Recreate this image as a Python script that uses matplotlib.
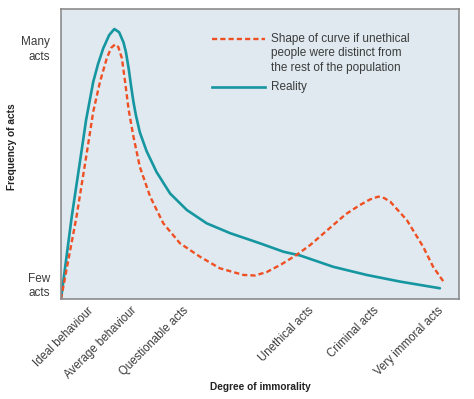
import matplotlib
matplotlib.use("Agg")
import matplotlib.pyplot as plt

plt.rcParams['font.family'] = ['Liberation Sans', 'DejaVu Sans']

# degree of immorality (0-100) and frequency of acts (0-100)
reality_x = [0, 2.7, 5.2, 6.3, 8.1, 9.3, 10.6, 12.1, 13.4, 14.6, 15.7, 16.3, 17.0, 17.6,
             18.2, 18.8, 19.8, 21.5, 24.0, 27.4, 31.6, 36.6, 42.5, 50.0, 55.9, 60.1,
             68.4, 76.8, 85.2, 95.2]
reality_y = [0, 28.4, 51.4, 61.7, 74.9, 81.0, 86.4, 91.0, 93.1, 92.0, 88.5, 85.2, 79.5, 73.5,
             68.0, 63.5, 57.5, 51.0, 43.8, 36.4, 30.7, 26.1, 22.7, 19.2, 16.3, 15.0,
             11.1, 8.3, 6.0, 3.7]

distinct_x = [0, 3.9, 6.6, 8.1, 9.8, 11.5, 12.6, 13.6, 14.4, 15.3, 16.1, 17.0, 18.2, 19.8,
              22.4, 25.7, 29.9, 34.9, 39.9, 45.8, 48.7, 51.7, 55.3, 59.2, 62.6, 68.4,
              71.6, 75.1, 77.6, 79.7, 81.2, 82.7, 86.9, 91.0, 93.5, 96.1]
distinct_y = [0, 28.4, 51.4, 64.6, 74.9, 83.0, 86.6, 87.8, 86.9, 83.0, 74.9, 65.2, 56.0, 45.6,
              35.3, 26.1, 19.2, 14.6, 10.6, 8.3, 8.1, 9.3, 11.9, 15.2, 18.6, 25.5,
              29.3, 32.4, 34.3, 35.3, 34.8, 33.6, 27.2, 18.0, 11.1, 6.0]

x_tick_pos = [8.8, 19.6, 32.7, 64.1, 80.4, 96.7]
x_tick_labels = ["Ideal behaviour", "Average behaviour", "Questionable acts",
                 "Unethical acts", "Criminal acts", "Very immoral acts"]
y_tick_pos = [5.5, 86.9]
y_tick_labels = ["Few\nacts", "Many\nacts"]

teal = "#1596a0"
orange = "#ef5023"
txt = "#3c3c3c"

fig = plt.figure(figsize=(4.74, 3.99), dpi=100)
ax = fig.add_axes([61 / 474, 1 - 299 / 399, 398 / 474, 290 / 399])
ax.set_facecolor("#dfe9ef")

ax.plot(reality_x, reality_y, color=teal, lw=1.9, solid_joinstyle="round", solid_capstyle="round")
ax.plot(distinct_x, distinct_y, color=orange, lw=1.7, dashes=(2.2, 1.3))

ax.set_xlim(0, 100)
ax.set_ylim(0, 100)

ax.set_xticks(x_tick_pos)
ax.set_xticklabels(x_tick_labels, rotation=45, ha="right", va="top", fontsize=8.3, color=txt)
ax.set_yticks(y_tick_pos)
ax.set_yticklabels(y_tick_labels, ha="right", fontsize=8.5, color=txt, linespacing=1.3)
ax.tick_params(axis="both", length=0)
ax.tick_params(axis="x", pad=4)
ax.tick_params(axis="y", pad=8)

for s in ax.spines.values():
    s.set_color("#8c8c8c")
    s.set_linewidth(1.2)

fig.text(260 / 474, 1 - 387 / 399, "Degree of immorality", fontsize=7.3, fontweight="bold",
         ha="center", va="center", color="#222222")
fig.text(12 / 474, 1 - 147 / 399, "Frequency of acts", fontsize=7.3, fontweight="bold",
         ha="center", va="center", rotation=90, color="#222222")

# legend drawn by hand so the dashed handle sits on the first text line
ax.plot([0.379, 0.513], [0.897, 0.897], transform=ax.transAxes, color=orange, lw=1.7,
        dashes=(2.2, 1.3))
ax.text(0.528, 0.917, "Shape of curve if unethical\npeople were distinct from\nthe rest of the population",
        transform=ax.transAxes, fontsize=8.5, va="top", ha="left", color=txt, linespacing=1.26)
ax.plot([0.379, 0.513], [0.731, 0.731], transform=ax.transAxes, color=teal, lw=1.9)
ax.text(0.528, 0.731, "Reality", transform=ax.transAxes, fontsize=8.5, va="center", ha="left",
        color=txt)

fig.savefig("out.png", dpi=100)
